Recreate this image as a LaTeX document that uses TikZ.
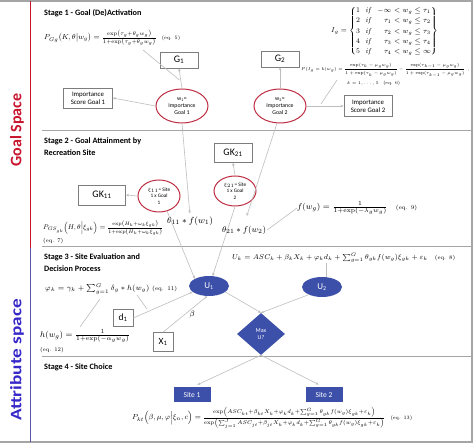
\documentclass[tikz,border=0pt]{standalone}
\usepackage{amsmath}
\usepackage{graphicx}
\usepackage{fontspec}
\setsansfont{Carlito}
\usetikzlibrary{shapes.geometric,arrows.meta}
\definecolor{lgray}{RGB}{190,190,190}
\definecolor{sepgray}{RGB}{165,165,165}
\definecolor{boxgray}{RGB}{125,125,125}
\definecolor{redc}{RGB}{190,45,65}
\definecolor{goalred}{RGB}{200,20,45}
\definecolor{attrblue}{RGB}{55,40,200}
\definecolor{fillblue}{RGB}{60,80,170}
\definecolor{lineblue}{RGB}{85,85,170}
\newcommand{\fsz}[2]{\fontsize{#1}{#2}\selectfont}
\newcommand{\eqw}[2]{\resizebox{#1}{!}{#2}}
\tikzset{
  conn/.style={draw=lgray, line width=0.6pt, -{Stealth[length=3pt,width=2.6pt]}},
  plainln/.style={draw=lgray, line width=0.6pt},
  sepln/.style={draw=sepgray, line width=0.8pt},
  gbox/.style={draw=boxgray, line width=0.6pt, fill=white, inner sep=0pt, align=center, font=\sffamily\fsz{10}{11}},
  ibox/.style={draw=boxgray, line width=0.6pt, fill=white, inner sep=0pt, align=center, font=\sffamily\fsz{6.8}{8}},
  redell/.style={ellipse, draw=redc, line width=1pt, fill=white, inner sep=0pt, align=center, font=\sffamily\fsz{5.8}{7}},
  blueell/.style={ellipse, fill=fillblue, text=white, inner sep=0pt, font=\sffamily\fsz{9}{10}},
  bluebox/.style={rectangle, fill=fillblue, text=white, inner sep=0pt, font=\sffamily\fsz{7.5}{9}},
  stagetitle/.style={anchor=west, inner sep=0pt, align=left, font=\sffamily\bfseries\fsz{8.2}{12}},
  eqn/.style={anchor=west, inner sep=0pt},
  sidelabel/.style={rotate=90, inner sep=0pt, font=\sffamily\bfseries\fsz{16}{18}}
}
\begin{document}
\begin{tikzpicture}[x=1pt,y=-1pt]
\useasboundingbox (0,0) rectangle (474,443);
\fill[white] (0,0) rectangle (474,443);
% frame
\draw[sepgray, line width=1.6pt] (0,1) -- (472,1) -- (472,442) -- (0,442);
\draw[goalred, line width=1pt] (30,1) -- (30,248);
\draw[lineblue, line width=1pt] (30,248) -- (30,442);
\node[sidelabel, text=goalred] (goal) at (17,130) {Goal Space};
\node[sidelabel, text=attrblue] (attr) at (17,360) {\scalebox{1.2}[1]{Attribute space}};
% separators
\draw[sepln] (42,130) -- (472,130);
\draw[sepln] (42,246) -- (472,246);
\draw[sepln] (42,356) -- (472,356);
% titles
\node[stagetitle] (s1) at (44,13) {Stage 1 - Goal (De)Activation};
\node[stagetitle] (s2) at (44,147) {Stage 2 - Goal Attainment by\\Recreation Site};
\node[stagetitle] (s3) at (44,262.5) {Stage 3 - Site Evaluation and\\Decision Process};
\node[stagetitle] (s4) at (44,367) {Stage 4 - Site Choice};

% ---------- Stage 1
\node[eqn] (eq5) at (44,38) {\eqw{136pt}{\fsz{8}{9}$P_{Gg}\big(K,\theta\big|w_g\big) = \frac{\exp\left(\tau_g+\theta_g w_g\right)}{1+\exp\left(\tau_g+\theta_g w_g\right)}$\ \ {\fsz{5.5}{6}(eq. 5)}}};
\node[inner sep=0pt] (Ig) at (384.5,31) {\resizebox*{107pt}{52pt}{\fsz{7}{8.5}\def\arraystretch{1.2}$I_g = \left\{\begin{array}{@{}l@{\ \ }l@{\quad}r@{\ }l@{}}
1 & \mathit{if} & -\infty & < w_g \le \tau_1\\
2 & \mathit{if} & \tau_1 & < w_g \le \tau_2\\
3 & \mathit{if} & \tau_2 & < w_g \le \tau_3\\
4 & \mathit{if} & \tau_3 & < w_g \le \tau_4\\
5 & \mathit{if} & \tau_4 & < w_g \le \infty
\end{array}\right\}$}};
\node[eqn] (eq6) at (301,70) {\eqw{168pt}{\fsz{5.5}{6}$P(I_g = k|w_g) = \dfrac{\exp(\tau_k - \mu_g w_g)}{1+\exp(\tau_k - \mu_g w_g)} - \dfrac{\exp(\tau_{k-1} - \mu_g w_g)}{1+\exp(\tau_{k-1} - \mu_g w_g)}\ ,$}};
\node[eqn] (eq6b) at (347,83) {\eqw{53pt}{\fsz{5.5}{6}$k = 1, \ldots, 5$\quad (eq. 6)}};

\node[gbox, minimum width=38pt, minimum height=16pt] (G1) at (179,60) {G\textsubscript{1}};
\node[gbox, minimum width=38pt, minimum height=16pt] (G2) at (280,59) {G\textsubscript{2}};
\node[ibox, minimum width=49pt, minimum height=20pt] (imp1) at (88,98) {Importance\\Score Goal 1};
\node[ibox, minimum width=48pt, minimum height=21pt] (imp2) at (368,106) {Importance\\Score Goal 2};
\node[redell, minimum width=52pt, minimum height=34pt] (w1) at (182,106) {w\textsubscript{1}=\\Importance\\Goal 1};
\node[redell, minimum width=52pt, minimum height=34pt] (w2) at (280,106) {w\textsubscript{2}=\\Importance\\Goal 2};

\draw[conn] (w1.north) -- (G1.south);
\draw[conn] (w1.west) -- (imp1.east);
\draw[conn] (w2.north) -- (G2.south);
\draw[conn] (w2.east) -- (imp2.west);
\coordinate (c5a) at (143,50);
\coordinate (c5b) at (179.5,80);
\draw[plainln] (c5a) -- (c5b);
\coordinate (c6a) at (337,80);
\coordinate (c6b) at (321,104);
\draw[plainln] (c6a) -- (c6b);

% ---------- Stage 2
\node[gbox, minimum width=47pt, minimum height=20pt] (GK11) at (102,195) {GK\textsubscript{11}};
\node[gbox, minimum width=38pt, minimum height=19pt] (GK21) at (233,153) {GK\textsubscript{21}};
\node[redell, minimum width=42pt, minimum height=32pt, font=\sffamily\fsz{5.2}{6.3}] (xi11) at (159,196) {$\xi_{11}$= Site\\1 x Goal\\1};
\node[redell, minimum width=42pt, minimum height=30pt, font=\sffamily\fsz{5.2}{6.3}] (xi21) at (235,191) {$\xi_{21}$= Site\\1 x Goal\\2};
\node[inner sep=1pt] (th11) at (190,221) {\eqw{46pt}{\fsz{8}{9}$\theta_{11} * f(w_1)$}};
\node[inner sep=1pt] (th21) at (244,230) {\eqw{44pt}{\fsz{8}{9}$\theta_{21} * f(w_2)$}};
\node[eqn] (eq9) at (297,208) {\eqw{120pt}{\fsz{8}{9}$f(w_g) = \frac{1}{1+\exp(-\lambda_g w_g)}$\quad{\fsz{5.5}{6}(eq. 9)}}};
\node[eqn] (eq7) at (43,228) {\eqw{120pt}{\fsz{8}{9}$P_{GS_{gk}}\Big(H,\theta\Big|\xi_{gk}\Big) = \frac{\exp\left(H_k+\omega_k\xi_{gk}\right)}{1+\exp\left(H_k+\omega_k\xi_{gk}\right)}$}};
\node[eqn] (eq7l) at (43,241) {\fsz{5.5}{6}(eq. 7)};

\draw[conn] (xi11.west) -- (GK11.east);
\draw[conn] (xi21.north) -- (GK21.south);
\draw[conn, shorten >=2pt] (w1.south) -- (th11.north);
\draw[conn, shorten >=9pt] (w2.-100) -- (th21.north);
\draw[plainln] (th21.east) -- (eq9.west);

% ---------- Stage 3
\node[eqn] (eq8) at (232,258) {\eqw{223pt}{\fsz{7}{8}$U_k = ASC_k + \beta_k X_k + \varphi_k d_k + \sum_{g=1}^{G}\theta_{gk} f(w_g)\xi_{gk} + \varepsilon_k$\quad{\fsz{5.5}{6}(eq. 8)}}};
\node[blueell, minimum width=40pt, minimum height=20pt] (U1) at (209,286) {U\textsubscript{1}};
\node[blueell, minimum width=40pt, minimum height=20pt] (U2) at (322,287) {U\textsubscript{2}};
\node[diamond, fill=fillblue, text=white, inner sep=0pt, minimum width=48pt, minimum height=42pt, align=center, font=\sffamily\fsz{6}{7}] (maxu) at (261,334) {Max\\U?};
\node[gbox, minimum width=20pt, minimum height=17pt, font=\sffamily\fsz{9.5}{10}] (d1) at (123,318) {d\textsubscript{1}};
\node[gbox, minimum width=20pt, minimum height=19pt, font=\sffamily\fsz{9.5}{10}] (X1) at (163,342) {X\textsubscript{1}};
\node[eqn] (eq11) at (45,289) {\eqw{132pt}{\fsz{7.5}{8}$\varphi_k = \gamma_k + \sum_{g=1}^{G}\delta_g * h(w_g)$\ {\fsz{5.5}{6}(eq. 11)}}};
\node[eqn] (eq12) at (40,336) {\eqw{90pt}{\fsz{8}{9}$h(w_g) = \frac{1}{1+\exp(-\alpha_g w_g)}$}};
\node[eqn] (eq12l) at (40,350) {\fsz{5.5}{6}(eq. 12)};

\coordinate (c8) at (326,263);
\draw[plainln] (c8) -- (U2.north -| c8);
\draw[conn] (xi11.-62) -- (U1.north west);
\draw[conn] (xi21.south) -- (U1.70);
\draw[conn] (U1.-20) -- (maxu.north);
\draw[conn] (U2.-150) -- (maxu.north);
\draw[conn] (d1.east) -- (U1.-160);
\draw[conn] (X1.north) -- node[pos=0.5, right=1pt, font=\fsz{8}{9}] (beta) {$\beta$} (U1.-100);
\coordinate (c11a) at (137,295);
\coordinate (c11b) at (147,309);
\draw[plainln] (c11a) -- (c11b);
\coordinate (c12a) at (80,327);
\coordinate (c12b) at (100,299);
\draw[plainln] (c12a) -- (c12b);

% ---------- Stage 4
\node[bluebox, minimum width=37pt, minimum height=15pt] (site1) at (192,395) {Site 1};
\node[bluebox, minimum width=37pt, minimum height=15pt] (site2) at (324,395) {Site 2};
\draw[conn, shorten >=6pt] (maxu.south) -- (site1.north);
\draw[conn, shorten >=6pt] (maxu.south) -- (site2.north);
\node[eqn] (eq13) at (132,418) {\eqw{280pt}{\fsz{8}{9}$P_{kt}\Big(\beta,\mu,\varphi\Big|\xi_n, c\Big) = \frac{\exp\left(ASC_{kt} + \beta_{kt}X_k + \varphi_k d_k + \sum_{g=1}^{G}\theta_{gk} f(w_g)\xi_{gk} + \varepsilon_k\right)}{\exp\left(\sum_{j=1}^{J} ASC_{jt} + \beta_{jt}X_k + \varphi_k d_k + \sum_{g=1}^{G}\theta_{gk} f(w_g)\xi_{gk} + \varepsilon_k\right)}$\ \ {\fsz{5.5}{6}(eq. 13)}}};
\end{tikzpicture}
\end{document}
